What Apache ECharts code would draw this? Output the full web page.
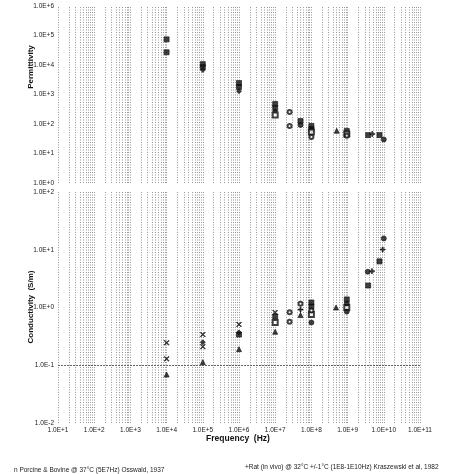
<!DOCTYPE html>
<html><head><meta charset="utf-8">
<script src="https://cdn.jsdelivr.net/npm/echarts@6/dist/echarts.min.js"></script>
<style>html,body{margin:0;padding:0;background:#fff}#c{width:474px;height:474px}</style>
</head><body><div id="c"></div>
<script>
// ---- Data (frequency Hz, value) ----
const FREQ_TICK_LABELS = ['1.0E+1','1.0E+2','1.0E+3','1.0E+4','1.0E+5','1.0E+6','1.0E+7','1.0E+8','1.0E+9','1.0E+10','1.0E+11'];
const PERM_TICK_LABELS = ['1.0E+0','1.0E+1','1.0E+2','1.0E+3','1.0E+4','1.0E+5','1.0E+6'];
const COND_TICK_LABELS = ['1.0E-2','1.0E-1','1.0E+0','1.0E+1','1.0E+2'];

// Permittivity panel
const permSquare = [[1e4,7.4e4],[1e4,2.7e4],[1e5,1.07e4],[1e5,8.5e3],[1e6,2.45e3],[1e6,1.8e3],[1e7,480],[1e7,350],[5e7,126],[1e8,86],[1e8,68],[9.5e8,58],[3.7e9,42],[7.6e9,42]];
const permDiamond = [[1e5,6.8e3],[1e6,1.3e3],[1e7,270],[1e8,62]];
const permOpenSquare = [[1e7,203],[1e8,54],[9.5e8,46]];
const permOpenCircle = [[2.5e7,256],[2.5e7,86],[1e8,36],[9.5e8,40]];
const permTriangle = [[5e8,59]];
const permPlus = [[4.8e9,46]];
const permDot = [[5e7,93],[1e10,30]];

// Conductivity panel
const condCross = [[1e4,0.245],[1e4,0.129],[1e5,0.34],[1e5,0.21],[1e6,0.51],[1e7,0.82]];
const condDiamond = [[1e5,0.25],[1e6,0.37]];
const condSquare = [[1e6,0.34],[1e7,0.70],[1e8,1.22],[1e8,1.04],[9.5e8,1.38],[3.7e9,2.4],[7.6e9,6.3]];
const condTriangle = [[1e4,0.069],[1e5,0.113],[1e6,0.19],[1e7,0.38],[4.8e8,1.0],[5e7,0.74]];
const condOpenSquare = [[1e7,0.55],[1e8,0.76],[9.5e8,1.0]];
const condOpenCircle = [[2.5e7,0.83],[2.5e7,0.565],[5e7,1.16],[1e8,0.89]];
const condPlus = [[5e7,0.92],[4.7e9,4.26],[9.3e9,10.1]];
const condDot = [[3.6e9,4.16],[1e10,15.7],[1e8,0.55],[9.5e8,0.85],[9.5e8,1.17]];

const LEGEND_1 = 'n Porcine & Bovine @ 37°C (5E7Hz) Osswald, 1937';
const LEGEND_2 = '+Rat (in vivo) @ 32°C +/-1°C (1E8-1E10Hz) Kraszewski et al, 1982';

// ---- Chart ----
const FONT = 'Liberation Sans, Arial, sans-serif';
const CROSS_PATH = 'path://M1,0L5,4L9,0L10,1L6,5L10,9L9,10L5,6L1,10L0,9L4,5L0,1Z';
const PLUS_PATH = 'path://M4,0H6V4H10V6H6V10H4V6H0V4H4Z';

function lbl(list, base){ return v => { const e = Math.round(Math.log10(v)); return list[e - base] || ''; }; }

// vertical log grid lines (1..9 per decade)
const vLines = [];
for (let e = 1; e <= 11; e++) for (let k = 1; k <= 9; k++) { const v = k * Math.pow(10, e); if (v <= 1e11) vLines.push({xAxis: v}); }

function gridSeries(xi, yi, extra){
  return {type:'scatter', xAxisIndex:xi, yAxisIndex:yi, data:[], silent:true,
    markLine:{silent:true, symbol:'none', label:{show:false}, animation:false,
      lineStyle:{color:'#999', type:[1,1.5], width:1},
      data: vLines.concat(extra || [])}};
}
function sc(data, xi, symbol, size, extra){
  return Object.assign({type:'scatter', xAxisIndex:xi, yAxisIndex:xi, data:data, symbol:symbol, symbolSize:size,
    itemStyle:{color:'#111', borderColor:'#111', borderWidth:0.8}, animation:false, z:5}, extra||{});
}
const emptyStyle = {itemStyle:{color:'#111', borderColor:'#111', borderWidth:1.2}};

const chart = echarts.init(document.getElementById('c'), null, {renderer:'canvas'});
const axisLbl = {fontSize:6.5, color:'#222', fontFamily:FONT};
chart.setOption({
  animation:false,
  grid:[{left:58, top:6, width:362, height:177},{left:58, top:192, width:362, height:231}],
  xAxis:[
    {type:'log', gridIndex:0, min:10, max:1e11, logBase:10, interval:1, axisLine:{show:false}, axisTick:{show:false}, splitLine:{show:false}, axisLabel:{show:false}},
    {type:'log', gridIndex:1, min:10, max:1e11, logBase:10, interval:1, axisLine:{show:false}, axisTick:{show:false}, splitLine:{show:false},
      axisLabel:Object.assign({margin:4, interval:0, hideOverlap:false, showMinLabel:true, showMaxLabel:true, formatter:lbl(FREQ_TICK_LABELS,1)}, axisLbl)}
  ],
  yAxis:[
    {type:'log', gridIndex:0, min:1, max:1e6, logBase:10, interval:1, axisLine:{show:false}, axisTick:{show:false}, splitLine:{show:false},
      axisLabel:Object.assign({margin:4, formatter:lbl(PERM_TICK_LABELS,0)}, axisLbl)},
    {type:'log', gridIndex:1, min:0.01, max:100, logBase:10, interval:1, axisLine:{show:false}, axisTick:{show:false}, splitLine:{show:false},
      axisLabel:Object.assign({margin:4, formatter:lbl(COND_TICK_LABELS,-2)}, axisLbl)}
  ],
  series:[
    gridSeries(0,0),
    gridSeries(1,1,[{yAxis:0.1, lineStyle:{color:'#666', type:[2,1], width:1}}]),
    sc(permSquare,0,'rect',5),
    sc(permDiamond,0,'diamond',5),
    sc(permOpenSquare,0,'emptyRect',5,emptyStyle),
    sc(permOpenCircle,0,'emptyCircle',4,emptyStyle),
    sc(permTriangle,0,'triangle',5),
    sc(permPlus,0,PLUS_PATH,5),
    sc(permDot,0,'circle',5),
    sc(condCross,1,CROSS_PATH,5),
    sc(condDiamond,1,'diamond',5),
    sc(condSquare,1,'rect',5),
    sc(condTriangle,1,'triangle',5),
    sc(condOpenSquare,1,'emptyRect',5,emptyStyle),
    sc(condOpenCircle,1,'emptyCircle',4,emptyStyle),
    sc(condPlus,1,PLUS_PATH,5),
    sc(condDot,1,'circle',5)
  ],
  graphic:[
    {type:'text', x:31, y:67, rotation:Math.PI/2, style:{text:'Permittivity', font:'bold 8px '+FONT, fill:'#111', textAlign:'center', textVerticalAlign:'middle'}},
    {type:'text', x:31, y:307, rotation:Math.PI/2, style:{text:'Conductivity  (S/m)', font:'bold 8px '+FONT, fill:'#111', textAlign:'center', textVerticalAlign:'middle'}},
    {type:'text', x:238, y:439, style:{text:'Frequency  (Hz)', font:'bold 8.5px '+FONT, fill:'#111', textAlign:'center', textVerticalAlign:'middle'}},
    {type:'text', x:14, y:470, style:{text:LEGEND_1, font:'6.5px '+FONT, fill:'#222', textAlign:'left', textVerticalAlign:'middle'}},
    {type:'text', x:245, y:467, style:{text:LEGEND_2, font:'6.5px '+FONT, fill:'#222', textAlign:'left', textVerticalAlign:'middle'}}
  ]
});
</script></body></html>
